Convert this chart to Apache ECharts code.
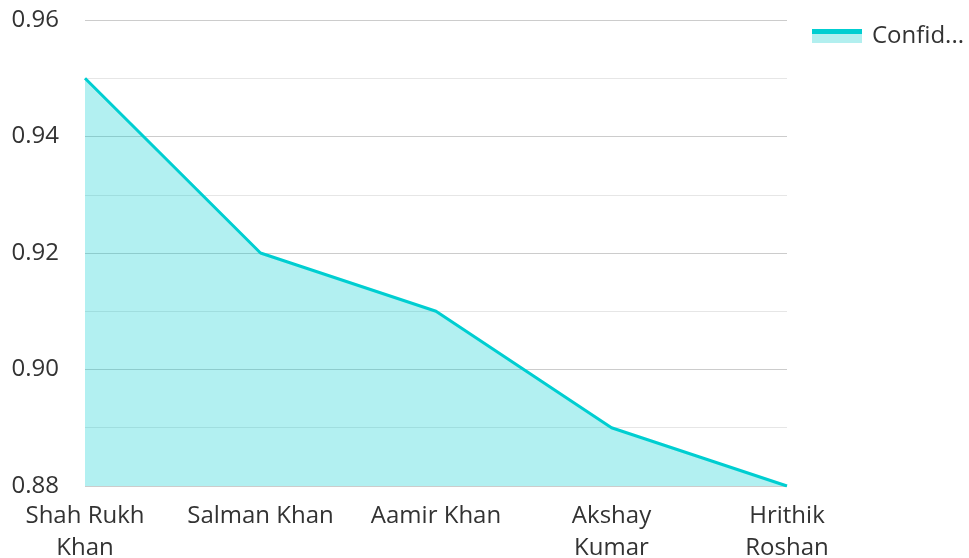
<!DOCTYPE html>
<html>
<head>
<meta charset="utf-8">
<script src="https://cdn.jsdelivr.net/npm/echarts@6/dist/echarts.min.js"></script>
<style>html,body{margin:0;padding:0;background:#fff;}#c{width:969px;height:558px;}</style>
</head>
<body>
<div id="c"></div>
<script>
var categories = ['Shah Rukh Khan', 'Salman Khan', 'Aamir Khan', 'Akshay Kumar', 'Hrithik Roshan'];
var tickLabels = ['Shah Rukh\nKhan', 'Salman Khan', 'Aamir Khan', 'Akshay\nKumar', 'Hrithik\nRoshan'];
var seriesName = 'Confidence Score';
var confidence = [0.95, 0.92, 0.91, 0.89, 0.88];

var FONT = '"Open Sans", sans-serif';
var chart = echarts.init(document.getElementById('c'), null, {renderer: 'canvas'});
chart.setOption({
  animation: false,
  backgroundColor: '#fff',
  grid: {left: 85, right: 182, top: 20, bottom: 72, containLabel: false, outerBoundsMode: 'none'},
  legend: {
    data: [seriesName],
    left: 807,
    top: 19,
    icon: 'rect',
    itemWidth: 50,
    itemHeight: 14,
    itemStyle: {
      color: {type: 'linear', x: 0, y: 0, x2: 0, y2: 1, colorStops: [
        {offset: 0, color: '#00CED1'}, {offset: 0.33, color: '#00CED1'},
        {offset: 0.33, color: '#b2efef'}, {offset: 1, color: '#b2efef'}
      ]},
      borderWidth: 0
    },
    textStyle: {fontFamily: FONT, fontSize: 24, color: '#333', width: 95, overflow: 'truncate', ellipsis: '...', padding: [0, 0, 0, 5]}
  },
  xAxis: {
    type: 'category',
    data: categories,
    boundaryGap: false,
    axisLine: {show: false},
    axisTick: {show: false},
    splitLine: {show: false},
    axisLabel: {
      fontFamily: FONT, fontSize: 24, color: '#333', margin: 14, lineHeight: 32,
      interval: 0,
      formatter: function (v, i) { return tickLabels[i]; }
    }
  },
  yAxis: {
    type: 'value',
    min: 0.88, max: 0.96, interval: 0.02,
    axisLine: {show: false},
    axisTick: {show: false},
    axisLabel: {fontFamily: FONT, fontSize: 24, color: '#333', margin: 26,
      formatter: function (v) { return v.toFixed(2); }},
    splitLine: {show: true, lineStyle: {color: '#cccccc', width: 1}},
    minorTick: {show: false, splitNumber: 2},
    minorSplitLine: {show: true, lineStyle: {color: '#e6e6e6', width: 1}}
  },
  series: [{
    name: seriesName,
    type: 'line',
    data: confidence,
    symbol: 'none',
    lineStyle: {color: '#00CED1', width: 3},
    itemStyle: {color: '#00CED1'},
    areaStyle: {color: '#00CED1', opacity: 0.3, origin: 'start'}
  }]
});
</script>
</body>
</html>
